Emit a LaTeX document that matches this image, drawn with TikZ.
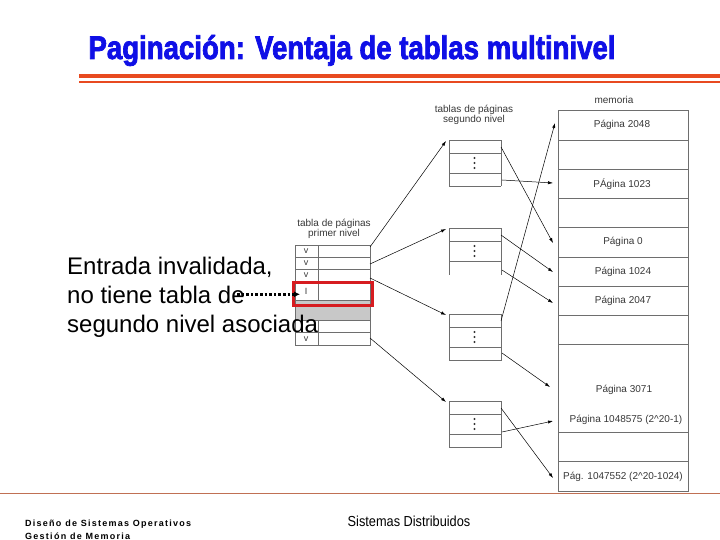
\documentclass[tikz,border=0pt]{standalone}
\usepackage{fontspec}
\setmainfont{Liberation Sans}
\newfontfamily\footfont[LetterSpace=14]{Liberation Sans}
\newfontfamily\titlefont[FakeBold=2.5]{Liberation Sans Bold}
\usepackage{tikz}
\usetikzlibrary{arrows.meta}
\definecolor{titleblue}{RGB}{15,15,230}
\definecolor{rulered}{RGB}{232,74,32}
\definecolor{footrule}{RGB}{192,112,84}
\definecolor{boxred}{RGB}{214,28,32}
\definecolor{cellgray}{RGB}{200,200,200}
\definecolor{linegray}{RGB}{110,110,110}
\definecolor{textgray}{RGB}{55,55,55}

\tikzset{
  ptr/.style={-{Latex[length=5pt,width=3.2pt]}, line width=0.5pt},
  cell/.style={draw=linegray, line width=0.6pt},
  cellmark/.style={font=\fontsize{9}{10}\selectfont, text=textgray, inner sep=0.5pt},
  small/.style={font=\fontsize{10}{10.5}\selectfont, text=textgray, align=center, inner sep=0.5pt},
  memlabel/.style={font=\fontsize{10}{11}\selectfont, text=textgray, inner sep=0.5pt},
  notetext/.style={font=\fontsize{24}{29}\selectfont, anchor=base west, inner sep=0pt},
  dotarrow/.style={-{Latex[length=6pt,width=6pt]}, line width=2.6pt, dash pattern={on 2.6pt off 2pt}},
}

\begin{document}
\begin{tikzpicture}[x=1pt,y=1pt,yscale=-1,xscale=1]
\useasboundingbox (0,0) rectangle (720,540);

% Title and rules
\node (title) [anchor=base, inner sep=0pt] at (352,59) {\resizebox{527pt}{24pt}{\fontsize{29}{30}\titlefont\color{titleblue}Paginación: Ventaja de tablas multinivel}};
\draw [rulered, line width=4pt] (79,76.2) -- (720,76.2);
\draw [rulered, line width=2pt] (79,81.7) -- (720,81.7);

%Shape: first level table
\fill [cellgray] (295,300) rectangle (370,320);
\draw [cell] (295,245) rectangle (370,345);
\foreach \y in {257,269,282,300,320,332} \draw [cell] (295,\y) -- (370,\y);
\draw [cell] (318,245) -- (318,300);
\draw [cell] (318,320) -- (318,345);
\foreach \y/\t [count=\i] in {251/v, 263/v, 275.5/v, 291/I, 339/v}
  \node (mark\i) [cellmark] at (306,\y) {\t};
% Text Node
\node (lblfirst) [small] at (334,229) {tabla de páginas\\primer nivel};
\coordinate (f1) at (370,247);
\coordinate (f2) at (370,264);
\coordinate (f3) at (370,278);
\coordinate (f8) at (370,338);

%Shape: second level tables
\foreach \n/\y/\b/\lo in {a/140/1/40, b/228/0/42, c/314/1/39, d/401/1/31} {
  \draw [cell] (449,\y+46.5) -- (449,\y) -- (501,\y) -- (501,\y+46.5);
  \ifnum\b=1 \draw [cell] (449,\y+46.5) -- (501,\y+46.5); \fi
  \draw [cell] (449,\y+13) -- (501,\y+13);
  \draw [cell] (449,\y+33.5) -- (501,\y+33.5);
  \foreach \d in {18,23,28} \fill [black!80] (474.5,\y+\d) circle (1.1);
  \coordinate (\n-in) at (446,\y+1);
  \coordinate (\n-hi) at (501,\y+7);
  \coordinate (\n-lo) at (502,\y+\lo);
}
% Text Node
\node (lblsecond) [small] at (474,115) {tablas de páginas\\segundo nivel};

%Shape: memory
\draw [cell] (558,110.7) rectangle (688,491);
\foreach \k in {1,...,8,11,12} \draw [cell] (558,110.7+29.25*\k) -- (688,110.7+29.25*\k);
% Text Node
\node (lblmem) [memlabel] at (614,100) {memoria};
\node (p2048) [memlabel] at (622,125) {Página 2048};
\node (p1023) [memlabel] at (622,184) {PÁgina 1023};
\node (p0) [memlabel] at (623,242) {Página 0};
\node (p1024) [memlabel] at (623,272) {Página 1024};
\node (p2047) [memlabel] at (623,301) {Página 2047};
\node (p3071) [memlabel] at (624,390) {Página 3071};
\node (plast) [memlabel] at (626,420) {Página 1048575 (2\^{}20-1)};
\node (p1047552) [memlabel] at (623,477) {Pág. 1047552 (2\^{}20-1024)};
\coordinate (m2048) at (555,123);
\coordinate (m1023) at (553,183);
\coordinate (m0) at (553,243);
\coordinate (m1024) at (553,272);
\coordinate (m2047) at (553,303);
\coordinate (m3071) at (550,387);
\coordinate (mlast) at (553,421);
\coordinate (m1047552) at (553,478);

%Straight Lines: first to second level
\draw [ptr] (f1) -- (a-in);
\draw [ptr] (f2) -- (b-in);
\draw [ptr] (f3) -- (c-in);
\draw [ptr] (f8) -- (d-in);
%Straight Lines: second level to memory
\draw [ptr] (a-hi) -- (m0);
\draw [ptr] (a-lo) -- (m1023);
\draw [ptr] (b-hi) -- (m1024);
\draw [ptr] (b-lo) -- (m2047);
\draw [ptr] (c-hi) -- (m2048);
\draw [ptr] (c-lo) -- (m3071);
\draw [ptr] (d-hi) -- (m1047552);
\draw [ptr] (d-lo) -- (mlast);

% Text Node
\node (note1) [notetext] at (67,274) {Entrada invalidada,};
\node (note2) [notetext] at (67,303) {no tiene tabla de};
\node (note3) [notetext] at (67,332) {segundo nivel asociada};
\draw [boxred, line width=3pt] (293.5,282.5) rectangle (372,305.5);
\coordinate (dotstart) at (237,294.3);
\coordinate (invalid) at (300,294.3);
\draw [dotarrow] (dotstart) -- (invalid);

% Footer
\draw [footrule, line width=1pt] (0,493) -- (720,493);
\node (foot1) [anchor=base west, inner sep=0pt, font=\footfont\bfseries\fontsize{9}{10}\selectfont] at (25,526) {Diseño de Sistemas Operativos};
\node (foot2) [anchor=base west, inner sep=0pt, font=\footfont\bfseries\fontsize{9}{10}\selectfont] at (25,539.5) {Gestión de Memoria};
\node (foot3) [anchor=base, inner sep=0pt] at (409,526) {\scalebox{0.88}[1]{\fontsize{14.5}{16}\selectfont Sistemas Distribuidos}};

\end{tikzpicture}
\end{document}
